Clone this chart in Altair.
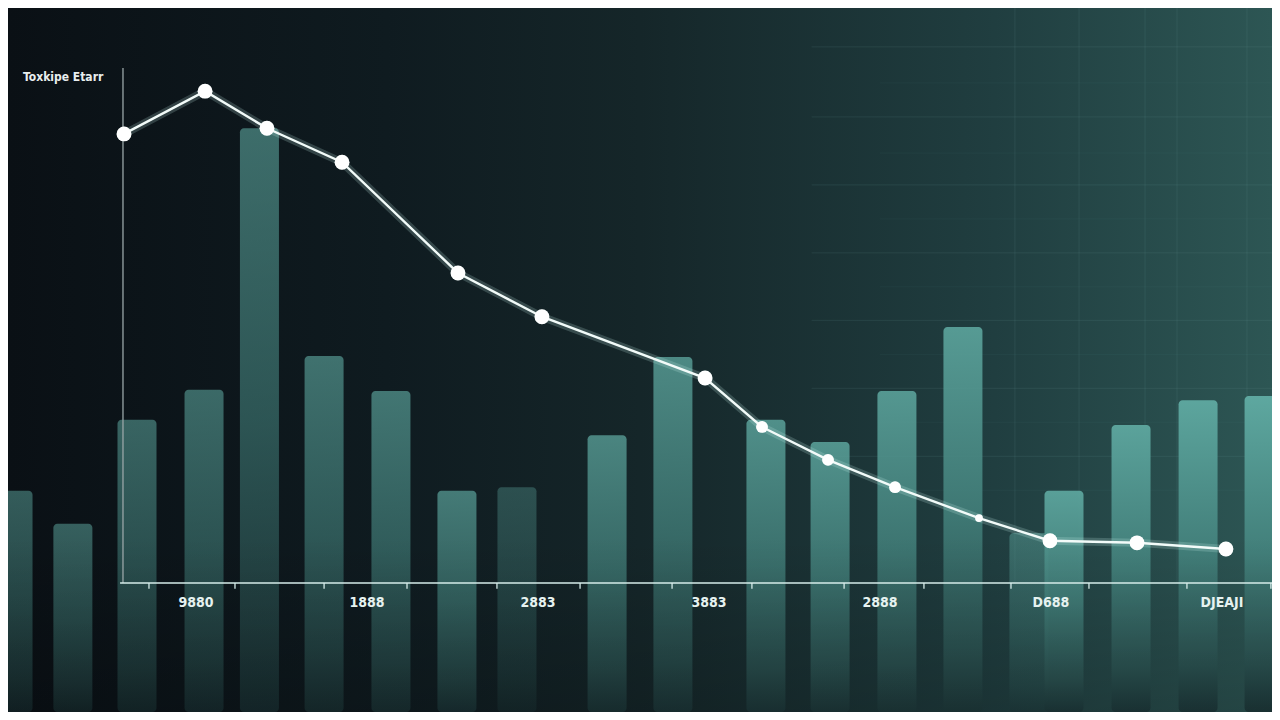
import altair as alt
import pandas as pd

# ---------------- data ----------------
title_text = "Toxkipe Etarr"

# bar centres (x units: tick-label index) and bar tops (y units)
bar_x = [-0.07, 0.28, 0.655, 1.047, 1.371, 1.749, 2.14, 2.526, 2.877, 3.404,
         3.789, 4.333, 4.708, 5.099, 5.485, 5.871, 6.076, 6.468, 6.860, 7.246]
bar_top = [17.9, 11.5, 31.7, 37.5, 88.3, 44.1, 37.3, 17.9, 18.6, 28.7,
           43.9, 31.7, 27.4, 37.3, 49.7, 9.7, 17.9, 30.7, 35.5, 36.3]
bar_tone = ["lit", "lit", "lit", "lit", "lit", "lit", "lit", "lit", "dim", "lit",
            "lit", "lit", "lit", "lit", "lit", "dim", "lit", "lit", "lit", "lit"]

# line series
line_x = [0.579, 1.053, 1.415, 1.854, 2.532, 3.023, 3.977, 4.31, 4.696, 5.088,
          5.579, 5.994, 6.503, 7.023]
line_y = [87.2, 95.5, 88.3, 81.7, 60.2, 51.7, 39.8, 30.3, 23.9, 18.6,
          12.6, 8.2, 7.8, 6.6]
line_kind = ["major", "major", "major", "major", "major", "major", "major",
             "minor", "minor", "minor", "tiny", "major", "major", "major"]

# x axis labels and tick positions
label_x = [1, 2, 3, 4, 5, 6, 7]
tick_labels = ["9880", "1888", "2883", "3883", "2888", "D688", "DJEAJI"]
tick_x = [0.725, 1.228, 1.749, 2.234, 2.76, 3.246, 3.784, 4.251, 4.79, 5.257,
          5.766, 6.222, 6.795, 7.286]

# faint background grid (right side)
grid_x = [5.789, 6.164, 6.550, 6.737, 7.146]
grid_y_major = [104.1, 90.5, 77.3, 64.1, 51.0, 37.8, 24.6]
grid_y_minor = [97.1, 83.5, 70.7, 57.5, 44.4, 31.2, 18.0]

# axis extents
x_min, x_max = -0.0994, 7.2924
y_min, y_max = -25.05, 111.65
yaxis_x = 0.573
xaxis_start = 0.556
yaxis_top = 100.0

# ---------------- tables ----------------
bars = pd.DataFrame({"x": bar_x, "top": bar_top, "tone": bar_tone, "base": y_min})
line = pd.DataFrame({"x": line_x, "y": line_y, "kind": line_kind})
labels = pd.DataFrame({"x": label_x, "label": tick_labels, "y": -3.9})
ticks = pd.DataFrame({"x": tick_x, "y": 0.0, "y2": -1.1})
gx = pd.DataFrame({"x": grid_x, "y": 0.0, "y2": y_max})
gy_major = pd.DataFrame({"y": grid_y_major, "x": 4.6, "x2": x_max})
gy_minor = pd.DataFrame({"y": grid_y_minor, "x": 5.0, "x2": x_max})
yaxis = pd.DataFrame({"x": [yaxis_x], "y": [0.0], "y2": [yaxis_top]})
xaxis = pd.DataFrame({"x": [xaxis_start], "x2": [x_max], "y": [0.0]})
one = pd.DataFrame({"t": [title_text]})

xs = alt.Scale(domain=[x_min, x_max], nice=False, zero=False, padding=0)
ys = alt.Scale(domain=[y_min, y_max], nice=False, zero=False, padding=0)


def X(f):
    return alt.X(f, type="quantitative", scale=xs, axis=None)


def Y(f):
    return alt.Y(f, type="quantitative", scale=ys, axis=None)


W, H = 1264, 704

bg = alt.Chart(one).mark_rect(
    color=alt.Gradient(
        gradient="linear", x1=0, x2=1, y1=0, y2=0,
        stops=[alt.GradientStop(offset=0, color="#0a1015"),
               alt.GradientStop(offset=0.3, color="#0f1b20"),
               alt.GradientStop(offset=0.5, color="#152629"),
               alt.GradientStop(offset=0.78, color="#203e40"),
               alt.GradientStop(offset=1, color="#2d5654")])
).encode(x=alt.value(0), x2=alt.value(W), y=alt.value(0), y2=alt.value(H))

shade = alt.Chart(one).mark_rect(
    color=alt.Gradient(
        gradient="linear", x1=0, x2=0, y1=0, y2=1,
        stops=[alt.GradientStop(offset=0, color="rgba(0,0,0,0)"),
               alt.GradientStop(offset=0.75, color="rgba(0,0,0,0)"),
               alt.GradientStop(offset=1, color="rgba(0,0,0,0.18)")])
).encode(x=alt.value(0), x2=alt.value(W), y=alt.value(0), y2=alt.value(H))

grid_v = alt.Chart(gx).mark_rule(color="#6a9c98", strokeWidth=1, opacity=0.15).encode(
    x=X("x"), y=Y("y"), y2="y2")
grid_h1 = alt.Chart(gy_major).mark_rule(color="#6a9c98", strokeWidth=1, opacity=0.15).encode(
    x=X("x"), x2="x2", y=Y("y"))
grid_h2 = alt.Chart(gy_minor).mark_rule(color="#6a9c98", strokeWidth=1, opacity=0.07).encode(
    x=X("x"), x2="x2", y=Y("y"))

bar_layer = alt.Chart(bars).transform_calculate(
    op="(0.5 + 0.5 * clamp(datum.x / 7.3, 0, 1)) * (datum.tone == 'dim' ? 0.5 : 1)"
).mark_bar(
    size=39, cornerRadius=4, clip=True,
    color=alt.Gradient(
        gradient="linear", x1=0, x2=0, y1=0, y2=1,
        stops=[alt.GradientStop(offset=0, color="#5ea8a0"),
               alt.GradientStop(offset=0.5, color="#427f7a"),
               alt.GradientStop(offset=0.85, color="#2c5453"),
               alt.GradientStop(offset=1, color="#1e3a3c")])
).encode(x=X("x"), y=Y("top"), y2="base", opacity=alt.Opacity("op:Q", scale=None))

yaxis_rule = alt.Chart(yaxis).mark_rule(color="#9aa6a8", strokeWidth=1.3).encode(
    x=X("x"), y=Y("y"), y2="y2")
xaxis_rule = alt.Chart(xaxis).mark_rule(color="#d6ecea", strokeWidth=1.6).encode(
    x=X("x"), x2="x2", y=Y("y"))
tick_rules = alt.Chart(ticks).mark_rule(color="#d6ecea", strokeWidth=1.3).encode(
    x=X("x"), y=Y("y"), y2="y2")
label_text = alt.Chart(labels).mark_text(
    font="DejaVu Sans Condensed", fontSize=14, fontWeight="bold",
    color="#e6f2f0", align="center", baseline="middle"
).encode(x=X("x"), y=Y("y"), text="label")

glow = alt.Chart(line).mark_line(color="#c8f2ea", strokeWidth=8, opacity=0.2).encode(
    x=X("x"), y=Y("y"))
main_line = alt.Chart(line).mark_line(color="#f2fbf9", strokeWidth=2.4).encode(
    x=X("x"), y=Y("y"))
size_scale_glow = alt.Scale(domain=["major", "minor", "tiny"], range=[220, 60, 20])
size_scale = alt.Scale(domain=["major", "minor", "tiny"], range=[90, 28, 8])
pts_glow = alt.Chart(line).mark_circle(color="#d8fbf4", opacity=0.3).encode(
    x=X("x"), y=Y("y"), size=alt.Size("kind:N", scale=size_scale_glow, legend=None))
pts = alt.Chart(line).mark_circle(color="#ffffff", opacity=1).encode(
    x=X("x"), y=Y("y"), size=alt.Size("kind:N", scale=size_scale, legend=None))

title = alt.Chart(one).mark_text(
    font="DejaVu Sans Condensed", fontSize=12, fontWeight="bold", color="#e8eeee",
    align="left", baseline="middle"
).encode(x=alt.value(15), y=alt.value(69), text="t:N")

chart = alt.layer(
    bg, grid_v, grid_h1, grid_h2, bar_layer, shade, yaxis_rule, xaxis_rule, tick_rules,
    label_text, glow, main_line, pts_glow, pts, title
).properties(
    width=W, height=H, autosize=alt.AutoSizeParams(type="none"), padding=0,
    background="#0a1015"
).configure_view(stroke=None)

chart.save("out.html", embed_options={"renderer": "svg", "actions": False})
